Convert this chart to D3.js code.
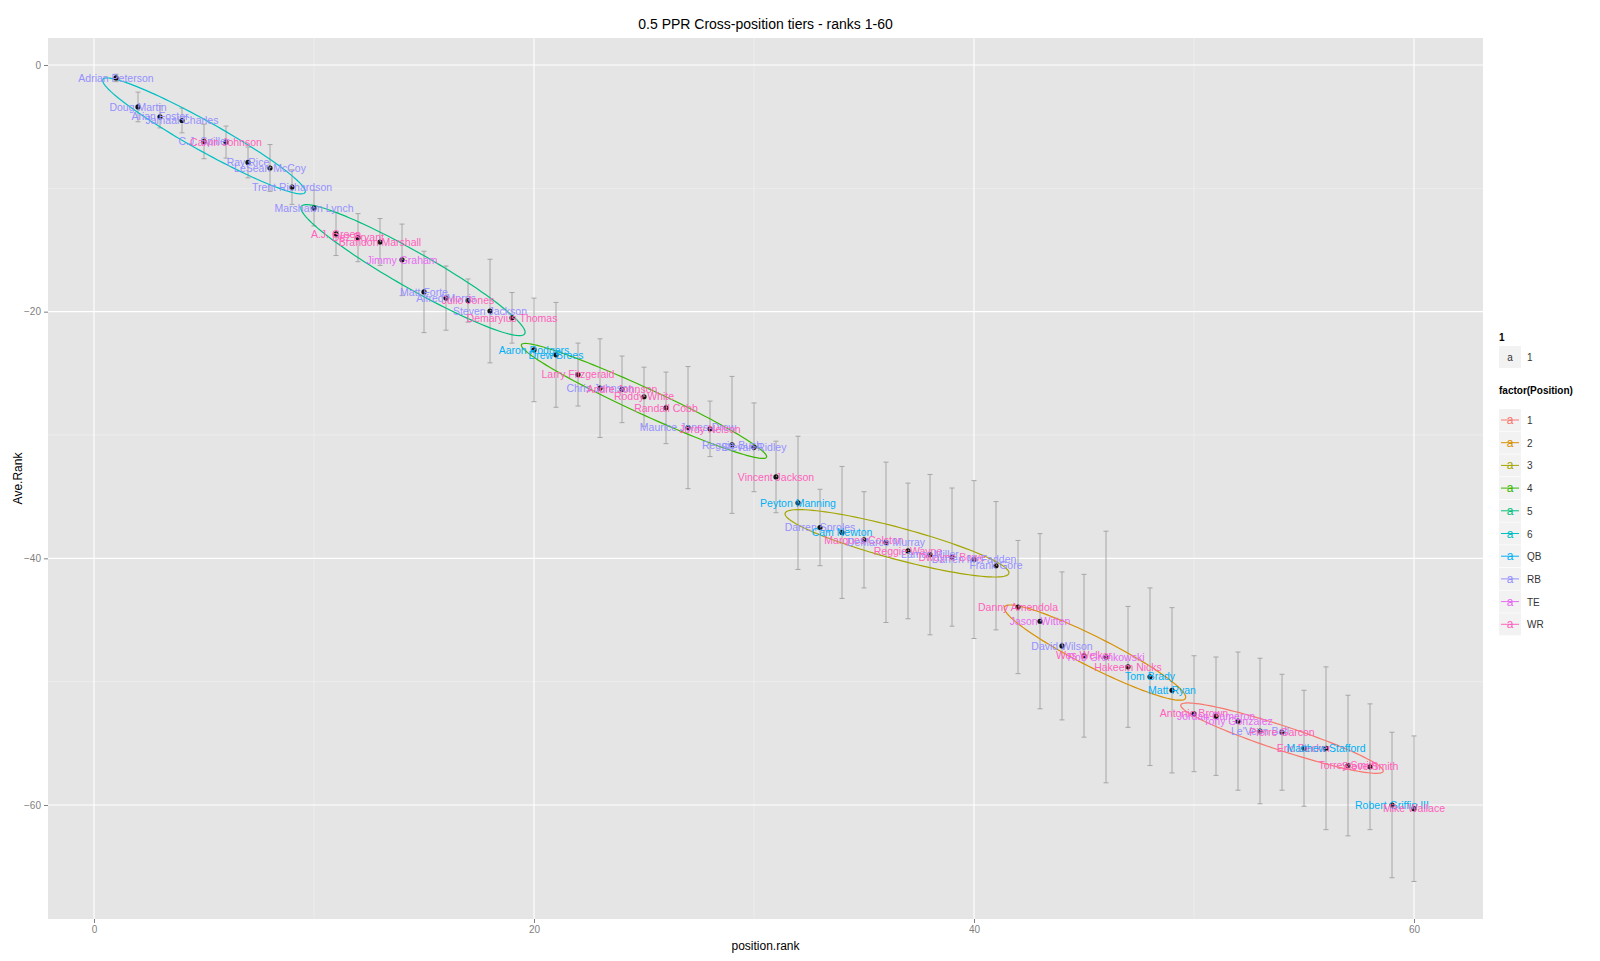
<!DOCTYPE html>
<html><head><meta charset="utf-8">
<script src="https://cdn.jsdelivr.net/npm/d3@7"></script>
<style>body{margin:0;background:#fff;font-family:"Liberation Sans",Arial,sans-serif;}</style>
</head><body><svg id="c" width="1600" height="961"></svg>
<script>
const players = ["Adrian Peterson","Doug Martin","Arian Foster","Jamaal Charles","C.J. Spiller","Calvin Johnson","Ray Rice","LeSean McCoy","Trent Richardson","Marshawn Lynch",
"A.J. Green","Dez Bryant","Brandon Marshall","Jimmy Graham","Matt Forte","Alfred Morris","Julio Jones","Steven Jackson","Demaryius Thomas","Aaron Rodgers",
"Drew Brees","Larry Fitzgerald","Chris Johnson","Andre Johnson","Roddy White","Randall Cobb","Maurice Jones-Drew","Jordy Nelson","Reggie Bush","Stevan Ridley",
"Vincent Jackson","Peyton Manning","Darren Sproles","Cam Newton","Marques Colston","DeMarco Murray","Reggie Wayne","Lamar Miller","Dwayne Bowe","Darren McFadden",
"Frank Gore","Danny Amendola","Jason Witten","David Wilson","Wes Welker","Rob Gronkowski","Hakeem Nicks","Tom Brady","Matt Ryan","Antonio Brown",
"Jordan Cameron","Tony Gonzalez","Le'Veon Bell","Pierre Garcon","Eric Decker","Matthew Stafford","Torrey Smith","Steve Smith","Robert Griffin III","Mike Wallace"];
const positions = ["RB","RB","RB","RB","RB","WR","RB","RB","RB","RB",
"WR","WR","WR","TE","RB","RB","WR","RB","WR","QB",
"QB","WR","RB","WR","WR","WR","RB","WR","RB","RB",
"WR","QB","RB","QB","WR","RB","WR","RB","WR","RB",
"RB","WR","TE","RB","WR","TE","WR","QB","QB","WR",
"TE","TE","RB","WR","WR","QB","WR","WR","QB","WR"];
const aveRank = [-1.05,-3.4,-4.2,-4.5,-6.2,-6.25,-7.9,-8.35,-9.9,-11.6,
-13.7,-14.0,-14.35,-15.8,-18.4,-18.9,-19.1,-19.95,-20.5,-23.1,
-23.5,-25.1,-26.2,-26.3,-26.9,-27.8,-29.4,-29.5,-30.8,-31.0,
-33.4,-35.5,-37.5,-37.9,-38.5,-38.7,-39.4,-39.7,-39.9,-40.1,
-40.6,-43.95,-45.1,-47.1,-47.9,-48.0,-48.8,-49.6,-50.7,-52.6,
-52.8,-53.2,-54.0,-54.1,-55.4,-55.4,-56.8,-56.9,-60.0,-60.3];
const stdev = [0.3,1.2,0.9,1.0,1.4,1.3,1.25,1.9,1.4,1.45,
1.75,1.95,1.9,2.9,3.3,2.6,1.75,4.2,2.05,4.2,
4.25,2.55,4.0,2.7,2.4,2.9,4.95,2.25,5.55,3.6,
2.9,5.4,3.1,5.35,3.9,6.5,5.5,6.5,5.6,6.4,
5.2,5.4,7.1,6.0,6.6,10.2,4.9,7.2,6.7,4.7,
4.8,5.6,5.9,4.7,4.7,6.6,5.7,5.1,5.9,5.9];
const tiers = [6,6,6,6,6,6,6,6,6,5,5,5,5,5,5,5,5,5,5,4,4,4,4,4,4,4,4,4,4,4,0,3,3,3,3,3,3,3,3,3,3,2,2,2,2,2,2,2,2,1,1,1,1,1,1,1,1,1,0,0];
const legendLevels = ["1","2","3","4","5","6","QB","RB","TE","WR"];
const legendColors = ["#F8766D","#D89000","#A3A500","#39B600","#00BF7D","#00BFC4","#00B0F6","#9590FF","#E76BF3","#FF62BC"];
const xTicks = [0,20,40,60], yTicks = [0,-20,-40,-60];

const svg = d3.select("#c");
const P = {l:48,t:38,r:1483,b:919};
const x = d3.scaleLinear().domain([0,60]).range([94,1414]);
const y = d3.scaleLinear().domain([0,-60]).range([65,805]);
const col = d3.scaleOrdinal(legendLevels, legendColors);
const font = "'Liberation Sans',Arial,sans-serif";

svg.append("rect").attr("x",P.l).attr("y",P.t).attr("width",P.r-P.l).attr("height",P.b-P.t).attr("fill","#E5E5E5");
const xMin = x.invert(P.l), xMax = x.invert(P.r), yMax = y.invert(P.t), yMin = y.invert(P.b);
const minorX = d3.range(-10,71,20).filter(v=>v>xMin&&v<xMax);
const minorY = d3.range(10,-71,-20).filter(v=>v<yMax&&v>yMin);
minorX.forEach(v=>svg.append("line").attr("x1",x(v)).attr("x2",x(v)).attr("y1",P.t).attr("y2",P.b).attr("stroke","#F2F2F2").attr("stroke-width",0.6));
minorY.forEach(v=>svg.append("line").attr("y1",y(v)).attr("y2",y(v)).attr("x1",P.l).attr("x2",P.r).attr("stroke","#F2F2F2").attr("stroke-width",0.6));
xTicks.forEach(v=>svg.append("line").attr("x1",x(v)).attr("x2",x(v)).attr("y1",P.t).attr("y2",P.b).attr("stroke","#fff").attr("stroke-width",1.1));
yTicks.forEach(v=>svg.append("line").attr("y1",y(v)).attr("y2",y(v)).attr("x1",P.l).attr("x2",P.r).attr("stroke","#fff").attr("stroke-width",1.1));

const ax = svg.append("g").attr("transform",`translate(0,${P.b})`).call(d3.axisBottom(x).tickValues(xTicks).tickSize(4).tickPadding(3));
const ay = svg.append("g").attr("transform",`translate(${P.l},0)`).call(d3.axisLeft(y).tickValues(yTicks).tickSize(4).tickPadding(3).tickFormat(d=>d===0?"0":d3.format("d")(d)));
[ax,ay].forEach(a=>{a.select(".domain").remove();a.selectAll("line").attr("stroke","#7F7F7F");a.selectAll("text").attr("fill","#7F7F7F").style("font-size","10px").style("font-family",font);});

svg.append("text").attr("x",(P.l+P.r)/2).attr("y",29).attr("text-anchor","middle").style("font-size","14px").style("font-family",font).text("0.5 PPR Cross-position tiers - ranks 1-60");
svg.append("text").attr("x",(P.l+P.r)/2).attr("y",950).attr("text-anchor","middle").style("font-size","12px").style("font-family",font).text("position.rank");
svg.append("text").attr("transform",`translate(22,${(P.t+P.b)/2}) rotate(-90)`).attr("text-anchor","middle").style("font-size","12px").style("font-family",font).text("Ave.Rank");

const data = players.map((n,i)=>({name:n,rank:i+1,pos:positions[i],v:aveRank[i],sd:stdev[i],tier:tiers[i]}));

const g = svg.append("g");
data.forEach(d=>{
  const x0=x(d.rank), cw=2.5;
  g.append("line").attr("x1",x0).attr("x2",x0).attr("y1",y(d.v+d.sd)).attr("y2",y(d.v-d.sd)).attr("stroke","#A6A6A6").attr("stroke-width",1);
  [d.v+d.sd,d.v-d.sd].forEach(e=>g.append("line").attr("x1",x0-cw).attr("x2",x0+cw).attr("y1",y(e)).attr("y2",y(e)).attr("stroke","#A6A6A6").attr("stroke-width",1));
});

// ellipses: covariance computed in screen space via the scales
const ellipseRadius = 1.68, minorPad = 6;
d3.range(1,7).forEach(t=>{
  const pts = data.filter(d=>d.tier===t).map(d=>[x(d.rank),y(d.v)]);
  const n=pts.length;
  const mx=d3.mean(pts,p=>p[0]), my=d3.mean(pts,p=>p[1]);
  let sxx=0,syy=0,sxy=0;
  pts.forEach(p=>{sxx+=(p[0]-mx)**2;syy+=(p[1]-my)**2;sxy+=(p[0]-mx)*(p[1]-my);});
  sxx/=n-1;syy/=n-1;sxy/=n-1;
  const tr=sxx+syy, det=sxx*syy-sxy*sxy, disc=Math.sqrt(tr*tr/4-det);
  const l1=tr/2+disc, l2=Math.max(tr/2-disc,0);
  const ang=Math.atan2(l1-sxx, sxy);
  const A=ellipseRadius*Math.sqrt(l1), B=ellipseRadius*Math.sqrt(l2)+minorPad;
  const ring=d3.range(0,361,3).map(deg=>{const th=deg*Math.PI/180,u=A*Math.cos(th),w=B*Math.sin(th);
    return [mx+u*Math.cos(ang)-w*Math.sin(ang), my+u*Math.sin(ang)+w*Math.cos(ang)];});
  svg.append("path").attr("d",d3.line()(ring)).attr("fill","none").attr("stroke",col(String(t))).attr("stroke-width",1.2);
});

data.forEach(d=>{
  svg.append("circle").attr("cx",x(d.rank)).attr("cy",y(d.v)).attr("r",2.6).attr("fill","#111");
  svg.append("circle").attr("cx",x(d.rank)+0.6).attr("cy",y(d.v)-0.6).attr("r",0.8).attr("fill","#888");
});
data.forEach(d=>{
  svg.append("text").attr("x",x(d.rank)).attr("y",y(d.v)).attr("dy","0.35em").attr("text-anchor","middle")
   .attr("fill",col(d.pos)).style("font-size","10.5px").style("font-family",font).text(d.name);
});

const L = svg.append("g").style("font-family",font);
L.append("text").attr("x",1499).attr("y",341).style("font-size","10px").style("font-weight","bold").text("1");
L.append("rect").attr("x",1499).attr("y",346).attr("width",22).attr("height",22).attr("fill","#F2F2F2");
L.append("text").attr("x",1510).attr("y",361).attr("text-anchor","middle").style("font-size","10px").attr("fill","#333").text("a");
L.append("text").attr("x",1527).attr("y",361).style("font-size","10px").attr("fill","#333").text("1");
L.append("text").attr("x",1499).attr("y",394).style("font-size","10px").style("font-weight","bold").text("factor(Position)");
legendLevels.forEach((lv,i)=>{
  const yy=409+i*22.7;
  L.append("rect").attr("x",1499).attr("y",yy).attr("width",22).attr("height",22).attr("fill","#F2F2F2");
  L.append("line").attr("x1",1501).attr("x2",1519).attr("y1",yy+11).attr("y2",yy+11).attr("stroke",col(lv)).attr("stroke-width",1);
  L.append("text").attr("x",1510).attr("y",yy+15).attr("text-anchor","middle").style("font-size","12px").attr("fill",col(lv)).text("a");
  L.append("text").attr("x",1527).attr("y",yy+15).style("font-size","10px").attr("fill","#333").text(lv);
});
</script></body></html>
